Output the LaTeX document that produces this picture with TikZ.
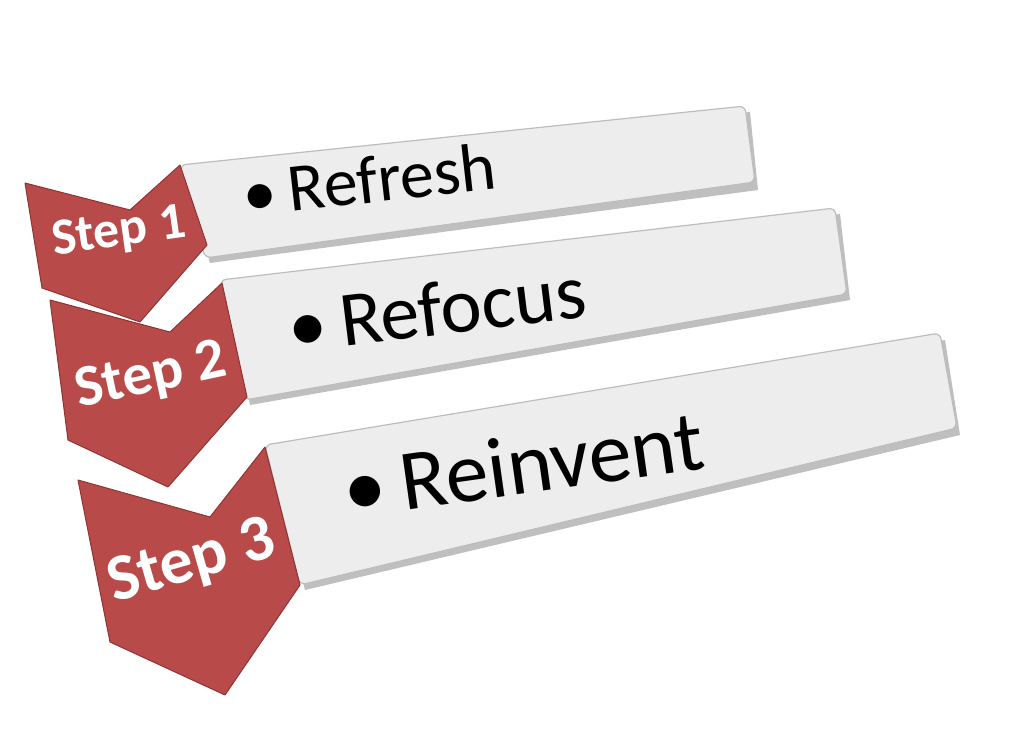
\documentclass[tikz,border=0pt]{standalone}
\usepackage{fontspec}
\setmainfont{Carlito}
\usetikzlibrary{calc}
\definecolor{stepred}{HTML}{B84A4A}
\definecolor{stepdark}{HTML}{8E3434}
\definecolor{barface}{HTML}{EDEDED}
\definecolor{barshade}{HTML}{BDBDBD}
\tikzset{
  chevron/.style={fill=stepred, draw=stepdark, line width=1pt, line join=round},
  bar/.style={fill=barface, draw=barshade, line width=1.2pt, rounded corners=6pt},
  steptext/.style={text=white, font=\bfseries, inner sep=0pt},
  bullettext/.style={text=black, anchor=west, inner sep=0pt}
}
\begin{document}
\begin{tikzpicture}[x=1pt,y=-1pt]
\useasboundingbox (0,0) rectangle (1024,734);

% bars
\fill[black!25] (185,170) -- (750,112) -- (758,190) -- (210,263) -- cycle;
\draw[bar] (180,165) -- (745,106) -- (755,182) -- (205,258) -- cycle;
\fill[black!25] (225,285) -- (840,214) -- (850,300) -- (250,405) -- cycle;
\draw[bar] (220,280) -- (835,208) -- (847,294) -- (245,400) -- cycle;
\fill[black!25] (270,450) -- (945,340) -- (960,435) -- (305,590) -- cycle;
\draw[bar] (265,445) -- (940,333) -- (957,428) -- (300,585) -- cycle;

% chevrons
\draw[chevron] (25,183) -- (130,210) -- (180,165) -- (207,245) -- (140,322) -- (42,288) -- cycle;
\draw[chevron] (50,300) -- (170,332) -- (222,283) -- (247,397) -- (168,487) -- (68,440) -- cycle;
\draw[chevron] (78,480) -- (210,517) -- (265,447) -- (300,585) -- (225,695) -- (110,642) -- cycle;

% step labels
\node[steptext, rotate=8, scale=5.2] (s1) at (119,233) {Step 1};
\node[steptext, rotate=12, scale=5.9] (s2) at (151,377) {Step 2};
\node[steptext, rotate=16, scale=6.6] (s3) at (192,563) {Step 3};

% bullet texts
\node[bullettext, rotate=6.5, scale=6.8] (t1) at (242,194) {\textbullet\,Refresh};
\node[bullettext, rotate=7, scale=7.8] (t2) at (287,327) {\textbullet\,Refocus};
\node[bullettext, rotate=8, scale=8.6] (t3) at (342,490) {\textbullet\,Reinvent};

\end{tikzpicture}
\end{document}
